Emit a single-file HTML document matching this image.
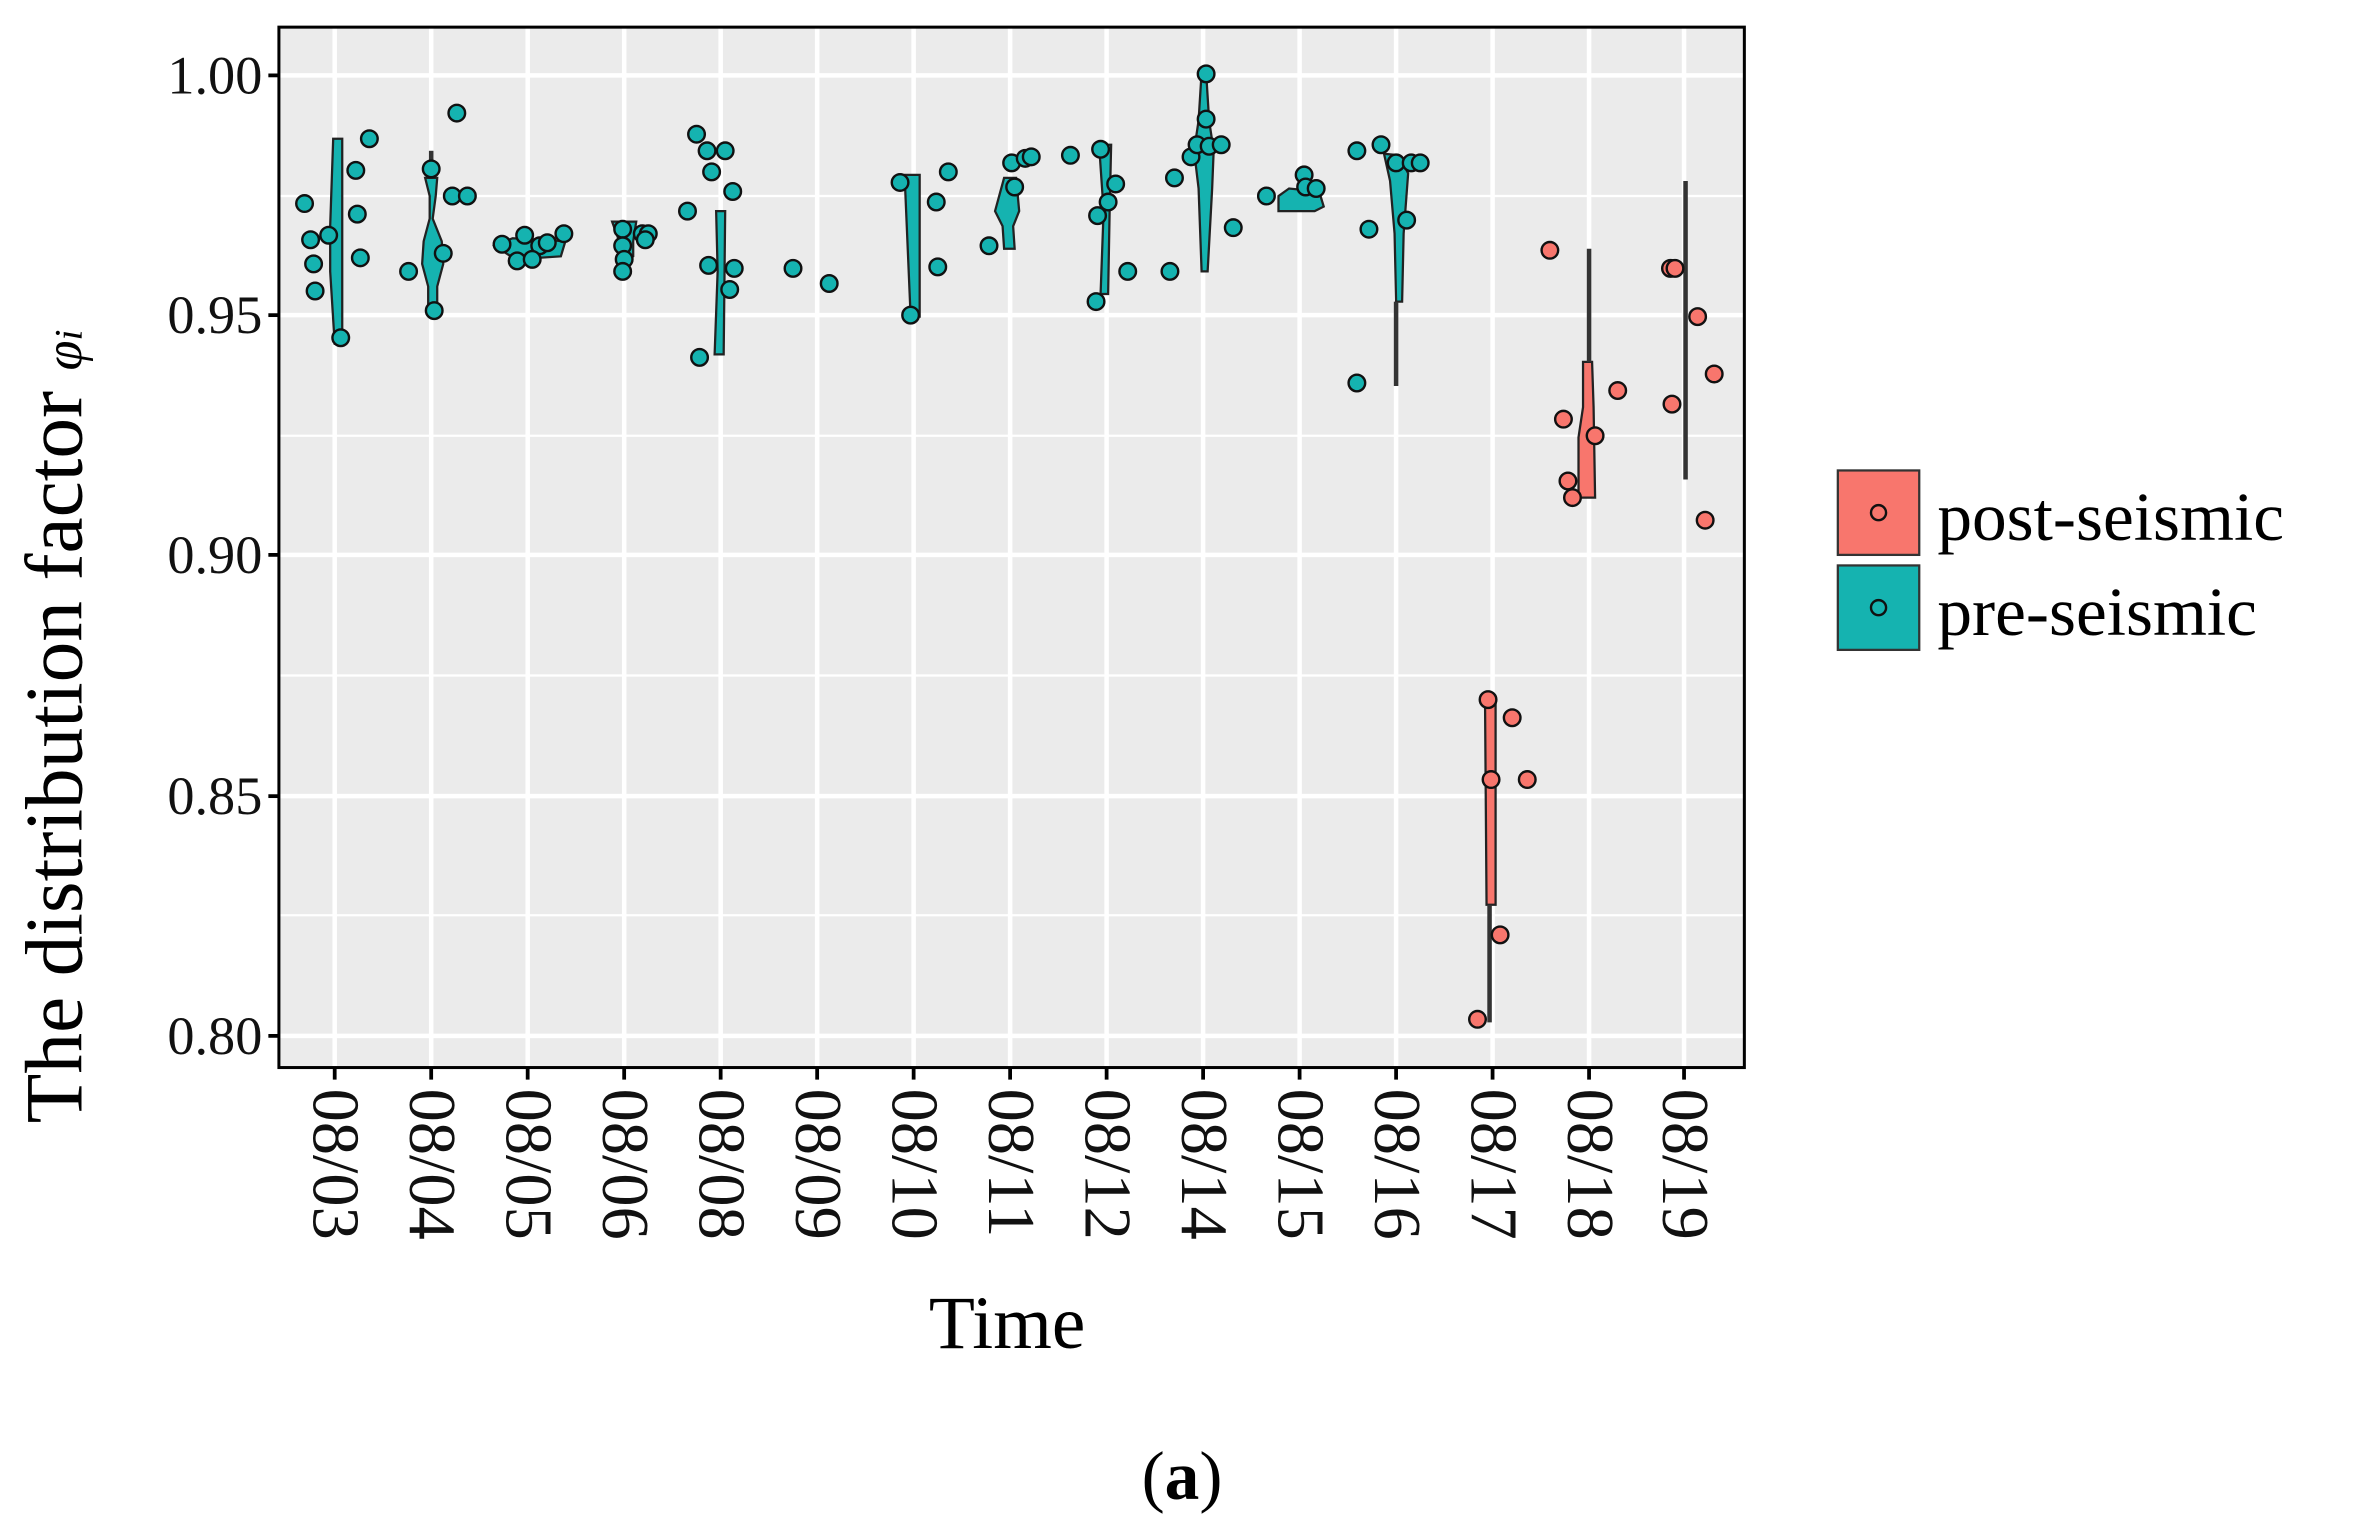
<!DOCTYPE html>
<html><head><meta charset="utf-8"><style>html,body{margin:0;padding:0;background:#fff}svg{display:block}</style></head>
<body>
<svg width="2364" height="1538" viewBox="0 0 1568 1020" preserveAspectRatio="none" xmlns="http://www.w3.org/2000/svg" font-family="Liberation Serif, serif">
<rect width="1568" height="1020" fill="#fff"/>
<rect x="185" y="18" width="972" height="690" fill="#EBEBEB"/>
<g stroke="#fff" stroke-width="1.5">
<line x1="185" x2="1157" y1="130" y2="130"/><line x1="185" x2="1157" y1="289" y2="289"/><line x1="185" x2="1157" y1="448" y2="448"/><line x1="185" x2="1157" y1="607" y2="607"/>
</g>
<g stroke="#fff" stroke-width="3">
<line x1="185" x2="1157" y1="50" y2="50"/><line x1="185" x2="1157" y1="209" y2="209"/><line x1="185" x2="1157" y1="368" y2="368"/><line x1="185" x2="1157" y1="528" y2="528"/><line x1="185" x2="1157" y1="687" y2="687"/>
<line x1="222" x2="222" y1="18" y2="708"/><line x1="286" x2="286" y1="18" y2="708"/><line x1="350" x2="350" y1="18" y2="708"/><line x1="414" x2="414" y1="18" y2="708"/><line x1="478" x2="478" y1="18" y2="708"/><line x1="542" x2="542" y1="18" y2="708"/><line x1="606" x2="606" y1="18" y2="708"/><line x1="670" x2="670" y1="18" y2="708"/><line x1="734" x2="734" y1="18" y2="708"/><line x1="798" x2="798" y1="18" y2="708"/><line x1="862" x2="862" y1="18" y2="708"/><line x1="926" x2="926" y1="18" y2="708"/><line x1="990" x2="990" y1="18" y2="708"/><line x1="1054" x2="1054" y1="18" y2="708"/><line x1="1117" x2="1117" y1="18" y2="708"/>
</g>
<g fill="#15B3B0" stroke="#222" stroke-width="1.5">
<path d="M221,92 L227,92 L227,228 L222,228 L219,180 L219,150 Z"/>
<path d="M282,118 L290,118 L289,130 L287,145 L293,160 L294,175 L290,190 L290,208 L284,208 L284,190 L280,175 L281,160 L285,145 L285,130 Z"/>
<path d="M328,163 L340,158 L375,160 L372,170 L342,172 Z"/>
<path d="M406,147 L422,147 L420,160 L420,170 L410,178 L410,158 Z"/>
<path d="M475,140 L481,140 L480,235 L474,235 L476,180 Z"/>
<path d="M600,116 L610,116 L610,210 L604,210 Z"/>
<path d="M666,118 L674,118 L676,140 L672,150 L673,165 L666,165 L665,150 L660,140 Z"/>
<path d="M729,96 L737,96 L736,140 L735,195 L730,195 L732,140 Z"/>
<path d="M797,48 L800,48 L802,80 L805,100 L804,125 L801,180 L797,180 L795,125 L792,100 L795,80 Z"/>
<path d="M848,130 L855,125 L875,127 L878,137 L872,140 L848,140 Z"/>
<path d="M918,102 L928,103 L934,115 L931,155 L930,200 L926,200 L925,155 L922,120 Z"/>
</g>
<g fill="#F8766D" stroke="#222" stroke-width="1.5">
<path d="M985,465 L992,465 L992,600 L986,600 Z"/>
<path d="M1050,240 L1056,240 L1057,270 L1058,330 L1047,330 L1047,290 L1050,270 Z"/>
</g>
<g stroke="#333" stroke-width="3">
<line x1="988" x2="988" y1="600" y2="678"/><line x1="1054" x2="1054" y1="165" y2="240"/><line x1="1118" x2="1118" y1="120" y2="318"/><line x1="926" x2="926" y1="200" y2="256"/><line x1="286" x2="286" y1="100" y2="118"/>
</g>
<g fill="#15B3B0" stroke="#111" stroke-width="1.6">
<circle cx="202" cy="135" r="5.5"/><circle cx="208" cy="175" r="5.5"/><circle cx="209" cy="193" r="5.5"/><circle cx="218" cy="156" r="5.5"/><circle cx="226" cy="224" r="5.5"/><circle cx="239" cy="171" r="5.5"/><circle cx="237" cy="142" r="5.5"/><circle cx="245" cy="92" r="5.5"/><circle cx="236" cy="113" r="5.5"/><circle cx="206" cy="159" r="5.5"/>
<circle cx="271" cy="180" r="5.5"/><circle cx="294" cy="168" r="5.5"/><circle cx="303" cy="75" r="5.5"/><circle cx="300" cy="130" r="5.5"/><circle cx="310" cy="130" r="5.5"/><circle cx="286" cy="112" r="5.5"/><circle cx="288" cy="206" r="5.5"/>
<circle cx="333" cy="162" r="5.5"/><circle cx="348" cy="156" r="5.5"/><circle cx="358" cy="163" r="5.5"/><circle cx="363" cy="161" r="5.5"/><circle cx="374" cy="155" r="5.5"/><circle cx="343" cy="173" r="5.5"/><circle cx="353" cy="172" r="5.5"/>
<circle cx="413" cy="152" r="5.5"/><circle cx="426" cy="155" r="5.5"/><circle cx="413" cy="163" r="5.5"/><circle cx="414" cy="172" r="5.5"/><circle cx="430" cy="155" r="5.5"/><circle cx="428" cy="159" r="5.5"/><circle cx="413" cy="180" r="5.5"/>
<circle cx="456" cy="140" r="5.5"/><circle cx="464" cy="237" r="5.5"/><circle cx="462" cy="89" r="5.5"/><circle cx="469" cy="100" r="5.5"/><circle cx="481" cy="100" r="5.5"/><circle cx="472" cy="114" r="5.5"/><circle cx="486" cy="127" r="5.5"/><circle cx="470" cy="176" r="5.5"/><circle cx="484" cy="192" r="5.5"/><circle cx="487" cy="178" r="5.5"/>
<circle cx="526" cy="178" r="5.5"/><circle cx="550" cy="188" r="5.5"/>
<circle cx="597" cy="121" r="5.5"/><circle cx="604" cy="209" r="5.5"/><circle cx="621" cy="134" r="5.5"/><circle cx="622" cy="177" r="5.5"/><circle cx="629" cy="114" r="5.5"/>
<circle cx="656" cy="163" r="5.5"/><circle cx="671" cy="108" r="5.5"/><circle cx="673" cy="124" r="5.5"/><circle cx="680" cy="105" r="5.5"/><circle cx="684" cy="104" r="5.5"/>
<circle cx="710" cy="103" r="5.5"/><circle cx="727" cy="200" r="5.5"/><circle cx="730" cy="99" r="5.5"/><circle cx="740" cy="122" r="5.5"/><circle cx="735" cy="134" r="5.5"/><circle cx="728" cy="143" r="5.5"/><circle cx="748" cy="180" r="5.5"/>
<circle cx="776" cy="180" r="5.5"/><circle cx="779" cy="118" r="5.5"/><circle cx="790" cy="104" r="5.5"/><circle cx="794" cy="96" r="5.5"/><circle cx="800" cy="79" r="5.5"/><circle cx="800" cy="49" r="5.5"/><circle cx="802" cy="97" r="5.5"/><circle cx="810" cy="96" r="5.5"/><circle cx="818" cy="151" r="5.5"/>
<circle cx="840" cy="130" r="5.5"/><circle cx="865" cy="116" r="5.5"/><circle cx="866" cy="124" r="5.5"/><circle cx="873" cy="125" r="5.5"/>
<circle cx="900" cy="100" r="5.5"/><circle cx="908" cy="152" r="5.5"/><circle cx="900" cy="254" r="5.5"/><circle cx="916" cy="96" r="5.5"/><circle cx="926" cy="108" r="5.5"/><circle cx="936" cy="108" r="5.5"/><circle cx="942" cy="108" r="5.5"/><circle cx="933" cy="146" r="5.5"/>
</g>
<g fill="#F8766D" stroke="#111" stroke-width="1.6">
<circle cx="980" cy="676" r="5.5"/><circle cx="987" cy="464" r="5.5"/><circle cx="989" cy="517" r="5.5"/><circle cx="1003" cy="476" r="5.5"/><circle cx="1013" cy="517" r="5.5"/><circle cx="995" cy="620" r="5.5"/>
<circle cx="1028" cy="166" r="5.5"/><circle cx="1037" cy="278" r="5.5"/><circle cx="1040" cy="319" r="5.5"/><circle cx="1043" cy="330" r="5.5"/><circle cx="1058" cy="289" r="5.5"/><circle cx="1073" cy="259" r="5.5"/>
<circle cx="1108" cy="178" r="5.5"/><circle cx="1109" cy="268" r="5.5"/><circle cx="1126" cy="210" r="5.5"/><circle cx="1137" cy="248" r="5.5"/><circle cx="1131" cy="345" r="5.5"/><circle cx="1111" cy="178" r="5.5"/>
</g>
<rect x="185" y="18" width="972" height="690" fill="none" stroke="#000" stroke-width="2"/>
<g stroke="#000" stroke-width="2.5">
<line x1="178" x2="185" y1="50" y2="50"/><line x1="178" x2="185" y1="209" y2="209"/><line x1="178" x2="185" y1="368" y2="368"/><line x1="178" x2="185" y1="528" y2="528"/><line x1="178" x2="185" y1="687" y2="687"/>
<line x1="222" x2="222" y1="708" y2="716"/><line x1="286" x2="286" y1="708" y2="716"/><line x1="350" x2="350" y1="708" y2="716"/><line x1="414" x2="414" y1="708" y2="716"/><line x1="478" x2="478" y1="708" y2="716"/><line x1="542" x2="542" y1="708" y2="716"/><line x1="606" x2="606" y1="708" y2="716"/><line x1="670" x2="670" y1="708" y2="716"/><line x1="734" x2="734" y1="708" y2="716"/><line x1="798" x2="798" y1="708" y2="716"/><line x1="862" x2="862" y1="708" y2="716"/><line x1="926" x2="926" y1="708" y2="716"/><line x1="990" x2="990" y1="708" y2="716"/><line x1="1054" x2="1054" y1="708" y2="716"/><line x1="1117" x2="1117" y1="708" y2="716"/>
</g>
<g font-size="36" text-anchor="end" fill="#111">
<text x="174" y="62">1.00</text><text x="174" y="221">0.95</text><text x="174" y="380">0.90</text><text x="174" y="540">0.85</text><text x="174" y="699">0.80</text>
</g>
<g font-size="44" fill="#111">
<text transform="translate(208,722) rotate(90)">08/03</text><text transform="translate(272,722) rotate(90)">08/04</text><text transform="translate(336,722) rotate(90)">08/05</text><text transform="translate(400,722) rotate(90)">08/06</text><text transform="translate(464,722) rotate(90)">08/08</text><text transform="translate(528,722) rotate(90)">08/09</text><text transform="translate(592,722) rotate(90)">08/10</text><text transform="translate(656,722) rotate(90)">08/11</text><text transform="translate(720,722) rotate(90)">08/12</text><text transform="translate(784,722) rotate(90)">08/14</text><text transform="translate(848,722) rotate(90)">08/15</text><text transform="translate(912,722) rotate(90)">08/16</text><text transform="translate(976,722) rotate(90)">08/17</text><text transform="translate(1040,722) rotate(90)">08/18</text><text transform="translate(1103,722) rotate(90)">08/19</text>
</g>
<text x="668" y="894" font-size="50" text-anchor="middle">Time</text>
<text transform="translate(54,745) rotate(-90)" font-size="54">The distribution factor  <tspan font-style="italic" font-size="36">φ</tspan><tspan font-style="italic" font-size="26">i</tspan></text>
<rect x="1219" y="312" width="54" height="56" fill="#F8766D" stroke="#333" stroke-width="1.5"/>
<rect x="1219" y="375" width="54" height="56" fill="#15B3B0" stroke="#333" stroke-width="1.5"/>
<circle cx="1246" cy="340" r="5" fill="#F8766D" stroke="#111" stroke-width="1.6"/>
<circle cx="1246" cy="403" r="5" fill="#15B3B0" stroke="#111" stroke-width="1.6"/>
<text x="1285" y="358" font-size="46">post-seismic</text>
<text x="1285" y="421" font-size="46">pre-seismic</text>
<text x="784" y="994" font-size="46" text-anchor="middle">(<tspan font-weight="bold">a</tspan>)</text>
</svg>
</body></html>
